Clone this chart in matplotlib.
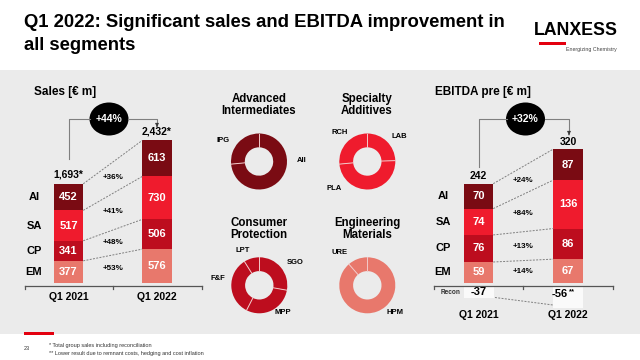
import matplotlib
matplotlib.use('Agg')
import matplotlib.pyplot as plt
from matplotlib.patches import Rectangle, Ellipse
import numpy as np

plt.rcParams['font.family'] = ['Liberation Sans', 'DejaVu Sans']
plt.rcParams['hatch.color'] = '#d8d8d8'

# ---------------- data ----------------
segments = ['AI', 'SA', 'CP', 'EM']            # top to bottom
periods = ['Q1 2021', 'Q1 2022']
sales_2021 = [452, 517, 341, 377]
sales_2022 = [613, 730, 506, 576]
sales_totals = ['1,693*', '2,432*']
sales_growth = ['+36%', '+41%', '+48%', '+53%']
sales_total_growth = '+44%'

ebitda_2021 = [70, 74, 76, 59]
ebitda_2022 = [87, 136, 86, 67]
ebitda_totals = ['242', '320']
ebitda_growth = ['+24%', '+84%', '+13%', '+14%']
ebitda_total_growth = '+32%'
ebitda_recon = ['-37', '-56']

donut_titles = ['Advanced\nIntermediates', 'Specialty\nAdditives',
                'Consumer\nProtection', 'Engineering\nMaterials']
donut_units = [['AII', 'IPG'], ['LAB', 'PLA', 'RCH'],
               ['SGO', 'MPP', 'F&F', 'LPT'], ['HPM', 'URE']]
donut_shares = [[73.5, 26.5], [24.5, 49.0, 26.5],
                [27.8, 29.7, 33.6, 8.9], [88.6, 11.4]]

seg_colors = {'AI': '#7a0b13', 'SA': '#ef1b2d', 'CP': '#bd0d1e', 'EM': '#e8786c'}

# ---------------- figure ----------------
W, H = 640, 360
fig = plt.figure(figsize=(6.4, 3.6), dpi=100)


def px_axes(x0, y0, x1, y1, **kw):
    return fig.add_axes([x0 / W, 1 - y1 / H, (x1 - x0) / W, (y1 - y0) / H], **kw)


bg = px_axes(0, 0, W, H)
bg.set_xlim(0, W); bg.set_ylim(H, 0); bg.axis('off')
bg.add_patch(Rectangle((0, 70), 640, 264, color='#ebebeb', lw=0))
bg.add_patch(Rectangle((24, 331.5), 30, 3, color='#e3000f', lw=0))

GREY = '#7f7f7f'


def bar_panel(x0px, x1px, c0px, c1px, base_px, scale, v21, v22, totals, growth, tot_off):
    top_px, bot_px = 60, 300
    ax = px_axes(x0px, top_px, x1px, bot_px)
    d = c1px - c0px
    ax.set_xlim((x0px - c0px) / d, (x1px - c0px) / d)
    ax.set_ylim(-(bot_px - base_px) / scale, (base_px - top_px) / scale)
    ax.axis('off')
    bw = 29.5 / d
    for xi, vals in enumerate([v21, v22]):
        bottom = 0
        for s, v in zip(segments[::-1], vals[::-1]):
            ax.bar(xi, v, bw, bottom=bottom, color=seg_colors[s], lw=0)
            ax.text(xi, bottom + v / 2, str(v), color='white', fontsize=8,
                    fontweight='bold', ha='center', va='center')
            bottom += v
        ax.text(xi, bottom + tot_off / scale, totals[xi], fontsize=7.5,
                fontweight='bold', ha='center', va='bottom')
    cum21 = np.cumsum(v21[::-1])[::-1]
    cum22 = np.cumsum(v22[::-1])[::-1]
    for i in range(len(segments)):
        ax.plot([bw / 2, 1 - bw / 2], [cum21[i], cum22[i]], color=GREY,
                ls=(0, (2, 1.4)), lw=0.7)
        mid21 = cum21[i] - v21[i] / 2
        mid22 = cum22[i] - v22[i] / 2
        ax.text(0.5, (mid21 + mid22) / 2, growth[i], fontsize=5.8,
                fontweight='bold', ha='center', va='center')
    return ax, cum21, cum22, bw


sax, s21, s22, sbw = bar_panel(15, 210, 68.5, 157, 283, 0.0588,
                               sales_2021, sales_2022, sales_totals, sales_growth, 4)
for i, s in enumerate(segments):
    sax.text((34 - 68.5) / 88.5, s21[i] - sales_2021[i] / 2, s, fontsize=8,
             fontweight='bold', ha='center', va='center')

eax, e21, e22, ebw = bar_panel(425, 625, 478.5, 568, 283, 0.356,
                               ebitda_2021, ebitda_2022, ebitda_totals, ebitda_growth, 2.5)
for i, s in enumerate(segments):
    eax.text((443 - 478.5) / 89.5, e21[i] - ebitda_2021[i] / 2, s, fontsize=8,
             fontweight='bold', ha='center', va='center')

# ---------------- overlay ----------------
ov = px_axes(0, 0, W, H)
ov.set_xlim(0, W); ov.set_ylim(H, 0); ov.axis('off')
ov.patch.set_alpha(0)

ov.text(24, 22.5, 'Q1 2022: Significant sales and EBITDA improvement in',
        fontsize=13.3, fontweight='bold', ha='left', va='center')
ov.text(24, 45, 'all segments', fontsize=13.3, fontweight='bold',
        ha='left', va='center')

# logo
ov.text(576, 30.5, 'LANXESS', fontsize=12.8, fontweight='bold',
        ha='center', va='center')
ov.add_patch(Rectangle((539, 42), 27, 2.5, color='#e3000f', lw=0))
ov.text(617, 50, 'Energizing Chemistry', fontsize=3.8, color='#444444',
        ha='right', va='center')

# panel titles
ov.text(34, 92, 'Sales [€ m]', fontsize=8.5, fontweight='bold', ha='left', va='center')
ov.text(435, 92, 'EBITDA pre [€ m]', fontsize=8.5, fontweight='bold', ha='left', va='center')

# axis lines
for xa, xb, xm in [(25, 202, 113), (434, 613, 523)]:
    ov.plot([xa, xb], [285.7, 285.7], color='#555555', lw=0.9)
    for xt in (xa, xm, xb):
        ov.plot([xt, xt], [285.7, 288.5], color='#555555', lw=0.9)

for i, p in enumerate(periods):
    ov.text([68.5, 157][i], 297, p, fontsize=7.5, fontweight='bold', ha='center', va='center')
    ov.text([478.5, 568][i], 315, p, fontsize=7.5, fontweight='bold', ha='center', va='center')


def bubble(cx, cy, txt, xl, xr, ytop_l, ytip):
    ov.plot([xl, xl, cx - 19], [ytop_l, cy, cy], color=GREY, lw=0.8)
    ov.plot([cx + 19, xr, xr], [cy, cy, ytip - 2], color=GREY, lw=0.8)
    ov.annotate('', xy=(xr, ytip), xytext=(xr, ytip - 3),
                arrowprops=dict(arrowstyle='-|>', color='#333333', lw=0.6,
                                mutation_scale=5))
    ov.add_patch(Ellipse((cx, cy), 39, 33, color='black', lw=0))
    ov.text(cx, cy, txt, color='white', fontsize=7.5, fontweight='bold',
            ha='center', va='center')


bubble(109, 119, sales_total_growth, 69, 157, 159, 127)
bubble(525.5, 119, ebitda_total_growth, 479, 569, 167, 135)

# recon row
ov.text(451, 292, 'Recon', fontsize=4.7, fontweight='bold', color='#333333',
        ha='center', va='center')
ov.add_patch(Rectangle((464, 287), 29.5, 10.5, facecolor='#fafafa',
                       edgecolor='none', hatch='.....'))
ov.add_patch(Rectangle((553, 287), 30, 21, facecolor='#fafafa',
                       edgecolor='none', hatch='.....'))
ov.text(478.5, 292, ebitda_recon[0], fontsize=8, fontweight='bold',
        ha='center', va='center')
ov.text(568, 294, ebitda_recon[1], fontsize=8, fontweight='bold',
        ha='right', va='center')
ov.text(568.5, 292, '**', fontsize=5.5, fontweight='bold', ha='left', va='center')
ov.plot([495, 553], [297.5, 305], color=GREY, ls=(0, (2, 1.4)), lw=0.7)

# footer
ov.text(24, 349, '23', fontsize=4, color='#333333', ha='left', va='center')
ov.text(49, 346, '* Total group sales including reconciliation', fontsize=4,
        color='#333333', ha='left', va='center')
ov.text(49, 353, '** Lower result due to remnant costs, hedging and cost inflation',
        fontsize=4, color='#333333', ha='left', va='center')

# ---------------- donuts ----------------
donut_centers = [(259, 161.5), (367.3, 161.5), (259.3, 285.3), (367.3, 285.3)]
donut_colors = [seg_colors[s] for s in segments]
title_pos = [(259, 105), (367, 105), (259, 229), (367, 229)]
label_pos = [[(302, 160), (223, 141)],
             [(399, 137), (334, 188), (340, 133)],
             [(295, 262), (283, 312), (218, 279), (243, 250)],
             [(395, 313), (340, 253)]]

for k in range(4):
    cx, cy = donut_centers[k]
    dax = px_axes(cx - 30, cy - 30, cx + 30, cy + 30)
    shares = donut_shares[k]
    dax.pie(shares, startangle=90, counterclock=False, radius=28,
            colors=[donut_colors[k]] * len(shares),
            wedgeprops=dict(width=13.8, edgecolor='none'))
    bounds = 90 - np.concatenate([[0], np.cumsum(shares)[:-1]]) * 3.6
    for a in np.deg2rad(bounds):
        dax.plot([14.2 * np.cos(a), 28 * np.cos(a)], [14.2 * np.sin(a), 28 * np.sin(a)],
                 color='#f3c9c9', lw=0.7)
    dax.set_xlim(-30, 30); dax.set_ylim(-30, 30)
    dax.set_aspect('equal'); dax.axis('off')
    tx, ty = title_pos[k]
    ov.text(tx, ty, donut_titles[k], fontsize=8.3, fontweight='bold',
            ha='center', va='center', linespacing=1.05)
    for (lx, ly), name in zip(label_pos[k], donut_units[k]):
        ov.text(lx, ly, name, fontsize=5.5, fontweight='bold', ha='center', va='center')

fig.savefig('out.png', dpi=100)
